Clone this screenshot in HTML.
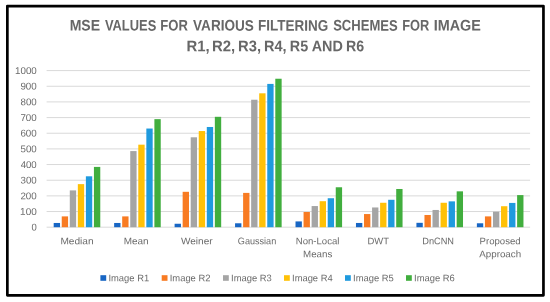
<!DOCTYPE html><html><head><meta charset="utf-8"><title>MSE chart</title><style>html,body{margin:0;padding:0;background:#fff}svg{display:block}text{font-family:"Liberation Sans",sans-serif;text-rendering:geometricPrecision}</style></head><body>
<svg width="550" height="302" viewBox="0 0 550 302">
<rect x="0" y="0" width="550" height="302" fill="#fff"/>
<rect x="7.35" y="6.1" width="536.1" height="289.2" fill="#fff" stroke="#000" stroke-width="2.7" stroke-linejoin="round"/>
<line x1="46.6" y1="227.20" x2="530.1" y2="227.20" stroke="#d9d9d9" stroke-width="1"/>
<line x1="46.6" y1="211.54" x2="530.1" y2="211.54" stroke="#d9d9d9" stroke-width="1"/>
<line x1="46.6" y1="195.88" x2="530.1" y2="195.88" stroke="#d9d9d9" stroke-width="1"/>
<line x1="46.6" y1="180.22" x2="530.1" y2="180.22" stroke="#d9d9d9" stroke-width="1"/>
<line x1="46.6" y1="164.56" x2="530.1" y2="164.56" stroke="#d9d9d9" stroke-width="1"/>
<line x1="46.6" y1="148.90" x2="530.1" y2="148.90" stroke="#d9d9d9" stroke-width="1"/>
<line x1="46.6" y1="133.24" x2="530.1" y2="133.24" stroke="#d9d9d9" stroke-width="1"/>
<line x1="46.6" y1="117.58" x2="530.1" y2="117.58" stroke="#d9d9d9" stroke-width="1"/>
<line x1="46.6" y1="101.92" x2="530.1" y2="101.92" stroke="#d9d9d9" stroke-width="1"/>
<line x1="46.6" y1="86.26" x2="530.1" y2="86.26" stroke="#d9d9d9" stroke-width="1"/>
<line x1="46.6" y1="70.60" x2="530.1" y2="70.60" stroke="#d9d9d9" stroke-width="1"/>
<rect x="53.69" y="222.97" width="6.34" height="4.23" fill="#1866c4"/>
<rect x="61.74" y="216.39" width="6.34" height="10.81" fill="#f87b22"/>
<rect x="69.79" y="190.40" width="6.34" height="36.80" fill="#a5a5a5"/>
<rect x="77.83" y="184.13" width="6.34" height="43.06" fill="#ffc107"/>
<rect x="85.88" y="176.30" width="6.34" height="50.90" fill="#1f9ade"/>
<rect x="93.93" y="166.91" width="6.34" height="60.29" fill="#41ae3e"/>
<rect x="114.15" y="222.97" width="6.34" height="4.23" fill="#1866c4"/>
<rect x="122.19" y="216.39" width="6.34" height="10.81" fill="#f87b22"/>
<rect x="130.24" y="151.09" width="6.34" height="76.11" fill="#a5a5a5"/>
<rect x="138.29" y="144.67" width="6.34" height="82.53" fill="#ffc107"/>
<rect x="146.34" y="128.54" width="6.34" height="98.66" fill="#1f9ade"/>
<rect x="154.39" y="119.15" width="6.34" height="108.05" fill="#41ae3e"/>
<rect x="174.60" y="223.75" width="6.34" height="3.45" fill="#1866c4"/>
<rect x="182.65" y="191.81" width="6.34" height="35.39" fill="#f87b22"/>
<rect x="190.70" y="137.31" width="6.34" height="89.89" fill="#a5a5a5"/>
<rect x="198.75" y="131.05" width="6.34" height="96.15" fill="#ffc107"/>
<rect x="206.79" y="126.98" width="6.34" height="100.22" fill="#1f9ade"/>
<rect x="214.84" y="116.80" width="6.34" height="110.40" fill="#41ae3e"/>
<rect x="235.06" y="223.28" width="6.34" height="3.92" fill="#1866c4"/>
<rect x="243.11" y="192.90" width="6.34" height="34.30" fill="#f87b22"/>
<rect x="251.15" y="99.73" width="6.34" height="127.47" fill="#a5a5a5"/>
<rect x="259.20" y="93.31" width="6.34" height="133.89" fill="#ffc107"/>
<rect x="267.25" y="83.91" width="6.34" height="143.29" fill="#1f9ade"/>
<rect x="275.30" y="78.74" width="6.34" height="148.46" fill="#41ae3e"/>
<rect x="295.51" y="221.41" width="6.34" height="5.79" fill="#1866c4"/>
<rect x="303.56" y="212.01" width="6.34" height="15.19" fill="#f87b22"/>
<rect x="311.61" y="206.06" width="6.34" height="21.14" fill="#a5a5a5"/>
<rect x="319.66" y="201.20" width="6.34" height="26.00" fill="#ffc107"/>
<rect x="327.71" y="198.23" width="6.34" height="28.97" fill="#1f9ade"/>
<rect x="335.75" y="187.27" width="6.34" height="39.93" fill="#41ae3e"/>
<rect x="355.97" y="222.97" width="6.34" height="4.23" fill="#1866c4"/>
<rect x="364.02" y="214.05" width="6.34" height="13.15" fill="#f87b22"/>
<rect x="372.07" y="207.47" width="6.34" height="19.73" fill="#a5a5a5"/>
<rect x="380.11" y="202.77" width="6.34" height="24.43" fill="#ffc107"/>
<rect x="388.16" y="199.79" width="6.34" height="27.41" fill="#1f9ade"/>
<rect x="396.21" y="188.99" width="6.34" height="38.21" fill="#41ae3e"/>
<rect x="416.43" y="222.82" width="6.34" height="4.38" fill="#1866c4"/>
<rect x="424.47" y="214.99" width="6.34" height="12.21" fill="#f87b22"/>
<rect x="432.52" y="209.97" width="6.34" height="17.23" fill="#a5a5a5"/>
<rect x="440.57" y="202.77" width="6.34" height="24.43" fill="#ffc107"/>
<rect x="448.62" y="201.36" width="6.34" height="25.84" fill="#1f9ade"/>
<rect x="456.67" y="191.34" width="6.34" height="35.86" fill="#41ae3e"/>
<rect x="476.88" y="223.28" width="6.34" height="3.92" fill="#1866c4"/>
<rect x="484.93" y="216.39" width="6.34" height="10.81" fill="#f87b22"/>
<rect x="492.98" y="211.70" width="6.34" height="15.50" fill="#a5a5a5"/>
<rect x="501.03" y="206.22" width="6.34" height="20.98" fill="#ffc107"/>
<rect x="509.08" y="202.93" width="6.34" height="24.27" fill="#1f9ade"/>
<rect x="517.12" y="195.10" width="6.34" height="32.10" fill="#41ae3e"/>
<text transform="rotate(0.05 69.68 30.60)" font-size="15.3" font-weight="bold" fill="#676767"><tspan x="69.68" y="30.60" textLength="30.42" lengthAdjust="spacingAndGlyphs">MSE</tspan> <tspan x="104.89" y="30.57" textLength="51.37" lengthAdjust="spacingAndGlyphs">VALUES</tspan> <tspan x="160.35" y="30.52" textLength="27.61" lengthAdjust="spacingAndGlyphs">FOR</tspan> <tspan x="193.09" y="30.49" textLength="60.81" lengthAdjust="spacingAndGlyphs">VARIOUS</tspan> <tspan x="258.12" y="30.44" textLength="70.13" lengthAdjust="spacingAndGlyphs">FILTERING</tspan> <tspan x="333.17" y="30.37" textLength="64.59" lengthAdjust="spacingAndGlyphs">SCHEMES</tspan> <tspan x="402.16" y="30.31" textLength="27.09" lengthAdjust="spacingAndGlyphs">FOR</tspan> <tspan x="433.66" y="30.28" textLength="47.14" lengthAdjust="spacingAndGlyphs">IMAGE</tspan></text>
<text transform="rotate(0.05 186.43 51.20)" font-size="15.3" font-weight="bold" fill="#676767"><tspan x="186.43" y="51.20" textLength="23.21" lengthAdjust="spacingAndGlyphs">R1,</tspan> <tspan x="212.03" y="51.18" textLength="23.21" lengthAdjust="spacingAndGlyphs">R2,</tspan> <tspan x="238.03" y="51.15" textLength="22.99" lengthAdjust="spacingAndGlyphs">R3,</tspan> <tspan x="264.05" y="51.13" textLength="22.55" lengthAdjust="spacingAndGlyphs">R4,</tspan> <tspan x="289.86" y="51.11" textLength="18.35" lengthAdjust="spacingAndGlyphs">R5</tspan> <tspan x="311.65" y="51.09" textLength="31.17" lengthAdjust="spacingAndGlyphs">AND</tspan> <tspan x="346.07" y="51.06" textLength="18.15" lengthAdjust="spacingAndGlyphs">R6</tspan></text>
<text transform="rotate(0.05 31.44 230.55)" font-size="9.8" fill="#6a6a6a"><tspan x="31.44" y="230.55" textLength="5.28" lengthAdjust="spacingAndGlyphs">0</tspan></text>
<text transform="rotate(0.05 20.14 214.89)" font-size="9.8" fill="#6a6a6a"><tspan x="20.14" y="214.89" textLength="16.63" lengthAdjust="spacingAndGlyphs">100</tspan></text>
<text transform="rotate(0.05 20.40 199.23)" font-size="9.8" fill="#6a6a6a"><tspan x="20.40" y="199.23" textLength="16.36" lengthAdjust="spacingAndGlyphs">200</tspan></text>
<text transform="rotate(0.05 20.53 183.57)" font-size="9.8" fill="#6a6a6a"><tspan x="20.53" y="183.57" textLength="16.23" lengthAdjust="spacingAndGlyphs">300</tspan></text>
<text transform="rotate(0.05 20.65 167.91)" font-size="9.8" fill="#6a6a6a"><tspan x="20.65" y="167.91" textLength="16.10" lengthAdjust="spacingAndGlyphs">400</tspan></text>
<text transform="rotate(0.05 20.53 152.25)" font-size="9.8" fill="#6a6a6a"><tspan x="20.53" y="152.25" textLength="16.23" lengthAdjust="spacingAndGlyphs">500</tspan></text>
<text transform="rotate(0.05 20.40 136.59)" font-size="9.8" fill="#6a6a6a"><tspan x="20.40" y="136.59" textLength="16.36" lengthAdjust="spacingAndGlyphs">600</tspan></text>
<text transform="rotate(0.05 20.40 120.93)" font-size="9.8" fill="#6a6a6a"><tspan x="20.40" y="120.93" textLength="16.36" lengthAdjust="spacingAndGlyphs">700</tspan></text>
<text transform="rotate(0.05 20.53 105.27)" font-size="9.8" fill="#6a6a6a"><tspan x="20.53" y="105.27" textLength="16.23" lengthAdjust="spacingAndGlyphs">800</tspan></text>
<text transform="rotate(0.05 20.40 89.61)" font-size="9.8" fill="#6a6a6a"><tspan x="20.40" y="89.61" textLength="16.36" lengthAdjust="spacingAndGlyphs">900</tspan></text>
<text transform="rotate(0.05 15.05 73.95)" font-size="9.8" fill="#6a6a6a"><tspan x="15.05" y="73.95" textLength="21.77" lengthAdjust="spacingAndGlyphs">1000</tspan></text>
<text transform="rotate(0.05 60.40 244.15)" font-size="9.5" fill="#6a6a6a"><tspan x="60.40" y="244.15" textLength="33.22" lengthAdjust="spacingAndGlyphs">Median</tspan></text>
<text transform="rotate(0.05 123.72 244.15)" font-size="9.5" fill="#6a6a6a"><tspan x="123.72" y="244.15" textLength="24.85" lengthAdjust="spacingAndGlyphs">Mean</tspan></text>
<text transform="rotate(0.05 180.97 244.15)" font-size="9.5" fill="#6a6a6a"><tspan x="180.97" y="244.15" textLength="31.61" lengthAdjust="spacingAndGlyphs">Weiner</tspan></text>
<text transform="rotate(0.05 237.82 244.15)" font-size="9.5" fill="#6a6a6a"><tspan x="237.82" y="244.15" textLength="38.39" lengthAdjust="spacingAndGlyphs">Gaussian</tspan></text>
<text transform="rotate(0.05 295.85 244.15)" font-size="9.5" fill="#6a6a6a"><tspan x="295.85" y="244.15" textLength="43.55" lengthAdjust="spacingAndGlyphs">Non-Local</tspan> <tspan x="303.03" y="257.14" textLength="29.27" lengthAdjust="spacingAndGlyphs">Means</tspan></text>
<text transform="rotate(0.05 367.45 244.15)" font-size="9.5" fill="#6a6a6a"><tspan x="367.45" y="244.15" textLength="21.51" lengthAdjust="spacingAndGlyphs">DWT</tspan></text>
<text transform="rotate(0.05 422.27 244.15)" font-size="9.5" fill="#6a6a6a"><tspan x="422.27" y="244.15" textLength="31.74" lengthAdjust="spacingAndGlyphs">DnCNN</tspan></text>
<text transform="rotate(0.05 479.64 244.15)" font-size="9.5" fill="#6a6a6a"><tspan x="479.64" y="244.15" textLength="41.03" lengthAdjust="spacingAndGlyphs">Proposed</tspan> <tspan x="479.30" y="257.15" textLength="41.79" lengthAdjust="spacingAndGlyphs">Approach</tspan></text>
<text transform="rotate(0.05 108.44 281.20)" font-size="9.5" fill="#6a6a6a"><tspan x="108.44" y="281.20" textLength="40.70" lengthAdjust="spacingAndGlyphs">Image R1</tspan></text>
<text transform="rotate(0.05 169.74 281.20)" font-size="9.5" fill="#6a6a6a"><tspan x="169.74" y="281.20" textLength="40.70" lengthAdjust="spacingAndGlyphs">Image R2</tspan></text>
<text transform="rotate(0.05 231.04 281.20)" font-size="9.5" fill="#6a6a6a"><tspan x="231.04" y="281.20" textLength="40.70" lengthAdjust="spacingAndGlyphs">Image R3</tspan></text>
<text transform="rotate(0.05 292.04 281.20)" font-size="9.5" fill="#6a6a6a"><tspan x="292.04" y="281.20" textLength="40.57" lengthAdjust="spacingAndGlyphs">Image R4</tspan></text>
<text transform="rotate(0.05 353.04 281.20)" font-size="9.5" fill="#6a6a6a"><tspan x="353.04" y="281.20" textLength="40.70" lengthAdjust="spacingAndGlyphs">Image R5</tspan></text>
<text transform="rotate(0.05 414.04 281.20)" font-size="9.5" fill="#6a6a6a"><tspan x="414.04" y="281.20" textLength="40.70" lengthAdjust="spacingAndGlyphs">Image R6</tspan></text>
<rect x="100.4" y="275.2" width="5.8" height="5.6" fill="#1866c4"/>
<rect x="161.7" y="275.2" width="5.8" height="5.6" fill="#f87b22"/>
<rect x="223.0" y="275.2" width="5.8" height="5.6" fill="#a5a5a5"/>
<rect x="284.0" y="275.2" width="5.8" height="5.6" fill="#ffc107"/>
<rect x="345.0" y="275.2" width="5.8" height="5.6" fill="#1f9ade"/>
<rect x="406.0" y="275.2" width="5.8" height="5.6" fill="#41ae3e"/>
</svg></body></html>
